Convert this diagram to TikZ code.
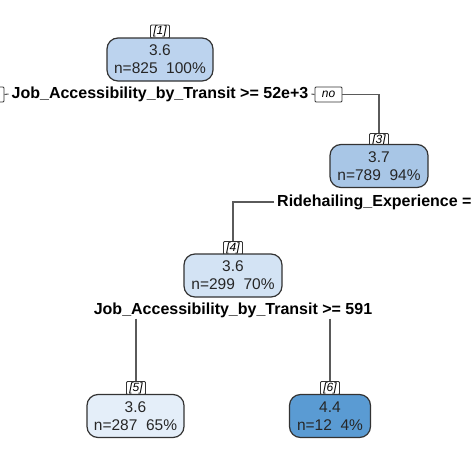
\documentclass[tikz,border=0pt]{standalone}
\usepackage{fontspec}
\setmainfont{Liberation Sans}
\definecolor{edge}{HTML}{5A5A5A}
\definecolor{fillA}{HTML}{BCD3EE}
\definecolor{fillB}{HTML}{A8C6E6}
\definecolor{fillC}{HTML}{D3E3F4}
\definecolor{fillD}{HTML}{E4EEF9}
\definecolor{fillE}{HTML}{5A9BD3}
\begin{document}
\begin{tikzpicture}[x=1pt, y=-1pt,
  leaf/.style={draw=black!80, line width=1.2pt, rounded corners=11pt, align=center, font=\fontsize{15.5}{18}\selectfont, text=black!85, minimum height=43pt, inner xsep=4pt},
  tag/.style={draw=black!80, line width=0.9pt, fill=white, rounded corners=1pt, font=\fontsize{12}{12}\selectfont\itshape, minimum width=19pt, minimum height=13pt, inner sep=0.5pt},
  split/.style={font=\fontsize{16}{17}\selectfont\bfseries, inner xsep=3pt, inner ysep=1pt},
  branch/.style={draw=edge, line width=1.1pt}]
\useasboundingbox (0,0) rectangle (474,474);
\clip (0,0) rectangle (474,474);
% root
\node[tag] (t1) at (160,31.5) {[1]};
\node[leaf, fill=fillA, minimum width=106pt] (n1) at (160,59.5) {3.6\\n=825~~100\%};
\node[split] (s1) at (160,94) {Job\_Accessibility\_by\_Transit >= 52e+3};
\node[tag, minimum width=28pt, minimum height=15pt] (yes) at (-10,94.5) {};
\node[tag, minimum width=27pt, minimum height=15pt] (no) at (328.5,94.5) {no};
% node 3
\node[tag] (t3) at (379,140) {[3]};
\node[leaf, fill=fillB, minimum width=98pt] (n3) at (379,166) {3.7\\n=789~~94\%};
\node[split, anchor=west] (s3) at (274,202) {Ridehailing\_Experience =};
% node 4
\node[tag] (t4) at (233,248) {[4]};
\node[leaf, fill=fillC, minimum width=98pt] (n4) at (233,275.5) {3.6\\n=299~~70\%};
\node[split] (s4) at (233,310) {Job\_Accessibility\_by\_Transit >= 591};
% leaves
\node[tag] (t5) at (136,388) {[5]};
\node[leaf, fill=fillD, minimum width=97pt] (n5) at (135.5,416) {3.6\\n=287~~65\%};
\node[tag] (t6) at (330,388) {[6]};
\node[leaf, fill=fillE, minimum width=81pt] (n6) at (330,416) {4.4\\n=12~~4\%};
% branches
\draw[branch] (yes.east) -- (s1.west);
\draw[branch] (s1.east) -- (no.west);
\draw[branch] (no.east) -| (t3.north);
\draw[branch] (s3.west) -| (t4.north);
\draw[branch] (s4.south -| t5.north) -- (t5.north);
\draw[branch] (s4.south -| t6.north) -- (t6.north);
\end{tikzpicture}
\end{document}
